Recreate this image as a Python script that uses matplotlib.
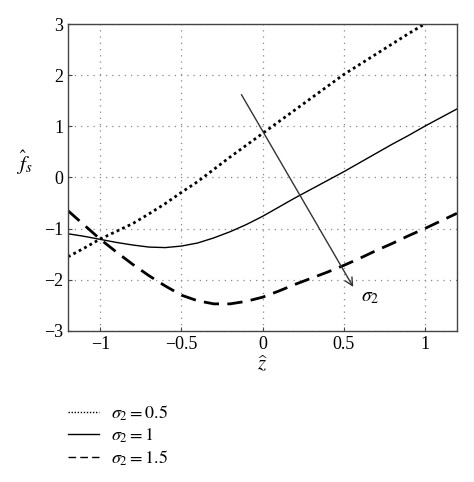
import numpy as np
import matplotlib
matplotlib.use('Agg')
import matplotlib.pyplot as plt

plt.rcParams['font.family'] = ['Liberation Serif', 'DejaVu Serif']
plt.rcParams['mathtext.fontset'] = 'stix'

# values
z = [-1.2, -1.1, -1.0, -0.9, -0.8, -0.7, -0.6, -0.5, -0.4, -0.3, -0.2, -0.1,
     0.0, 0.1, 0.2, 0.3, 0.4, 0.5, 0.6, 0.7, 0.8, 0.9, 1.0, 1.1, 1.2]
f_05 = [-1.55, -1.38, -1.20, -1.05, -0.90, -0.71, -0.51, -0.29, -0.08, 0.16,
        0.40, 0.63, 0.86, 1.09, 1.32, 1.55, 1.78, 2.01, 2.21, 2.41, 2.61,
        2.81, 3.00, 3.19, 3.38]
f_10 = [-1.10, -1.15, -1.21, -1.27, -1.32, -1.36, -1.37, -1.34, -1.28, -1.18,
        -1.06, -0.92, -0.76, -0.58, -0.40, -0.23, -0.06, 0.11, 0.29, 0.47,
        0.65, 0.82, 1.00, 1.17, 1.34]
f_15 = [-0.65, -0.93, -1.21, -1.46, -1.70, -1.92, -2.12, -2.30, -2.41, -2.47,
        -2.47, -2.42, -2.34, -2.22, -2.09, -1.97, -1.85, -1.72, -1.58, -1.43,
        -1.29, -1.14, -1.00, -0.85, -0.70]

arrow_start = (-0.13, 1.62)
arrow_end = (0.56, -2.14)

fig = plt.figure(figsize=(4.74, 4.82), dpi=100)
ax = fig.add_axes([0.1435, 0.3133, 0.8206, 0.6369])

l1, = ax.plot(z, f_05, color='black', linestyle=(0, (1, 1.2)), linewidth=2.0)
l2, = ax.plot(z, f_10, color='black', linestyle='-', linewidth=1.0)
l3, = ax.plot(z, f_15, color='black', linestyle=(0, (5.5, 3)), linewidth=2.0)

ax.annotate('', xy=arrow_end, xytext=arrow_start,
            arrowprops=dict(arrowstyle='->', color='#333333', lw=1.0,
                            mutation_scale=14, shrinkA=0, shrinkB=0))
ax.text(0.61, -2.42, r'$\sigma_2$', fontsize=14)

ax.set_xlim(-1.2, 1.2)
ax.set_ylim(-3, 3)
ax.set_xticks([-1, -0.5, 0, 0.5, 1])
ax.set_xticklabels(['\u22121', '\u22120.5', '0', '0.5', '1'])
ax.set_yticks([-3, -2, -1, 0, 1, 2, 3])
ax.set_yticklabels(['\u22123', '\u22122', '\u22121', '0', '1', '2', '3'])
ax.tick_params(direction='in', length=3, labelsize=13, width=0.8, color='#444444')
ax.grid(True, linestyle=(0, (1, 4)), color='#888888', linewidth=0.9)
for s in ax.spines.values():
    s.set_color('#444444')
    s.set_linewidth(1.0)

ax.set_xlabel(r'$\widehat{z}$', fontsize=15, labelpad=2)
ax.set_ylabel(r'$\widehat{f}_s$', fontsize=15, rotation=0, labelpad=14)

fig.legend([l1, l2, l3],
           [r'$\sigma_2 = 0.5$', r'$\sigma_2 = 1$', r'$\sigma_2 = 1.5$'],
           loc='upper left', bbox_to_anchor=(0.11, 0.197), frameon=False,
           fontsize=13, handlelength=1.7, labelspacing=0.2, handletextpad=0.65)
for h in fig.legends[0].get_lines():
    h.set_linewidth(1.0)

fig.savefig('out.png', dpi=100)
